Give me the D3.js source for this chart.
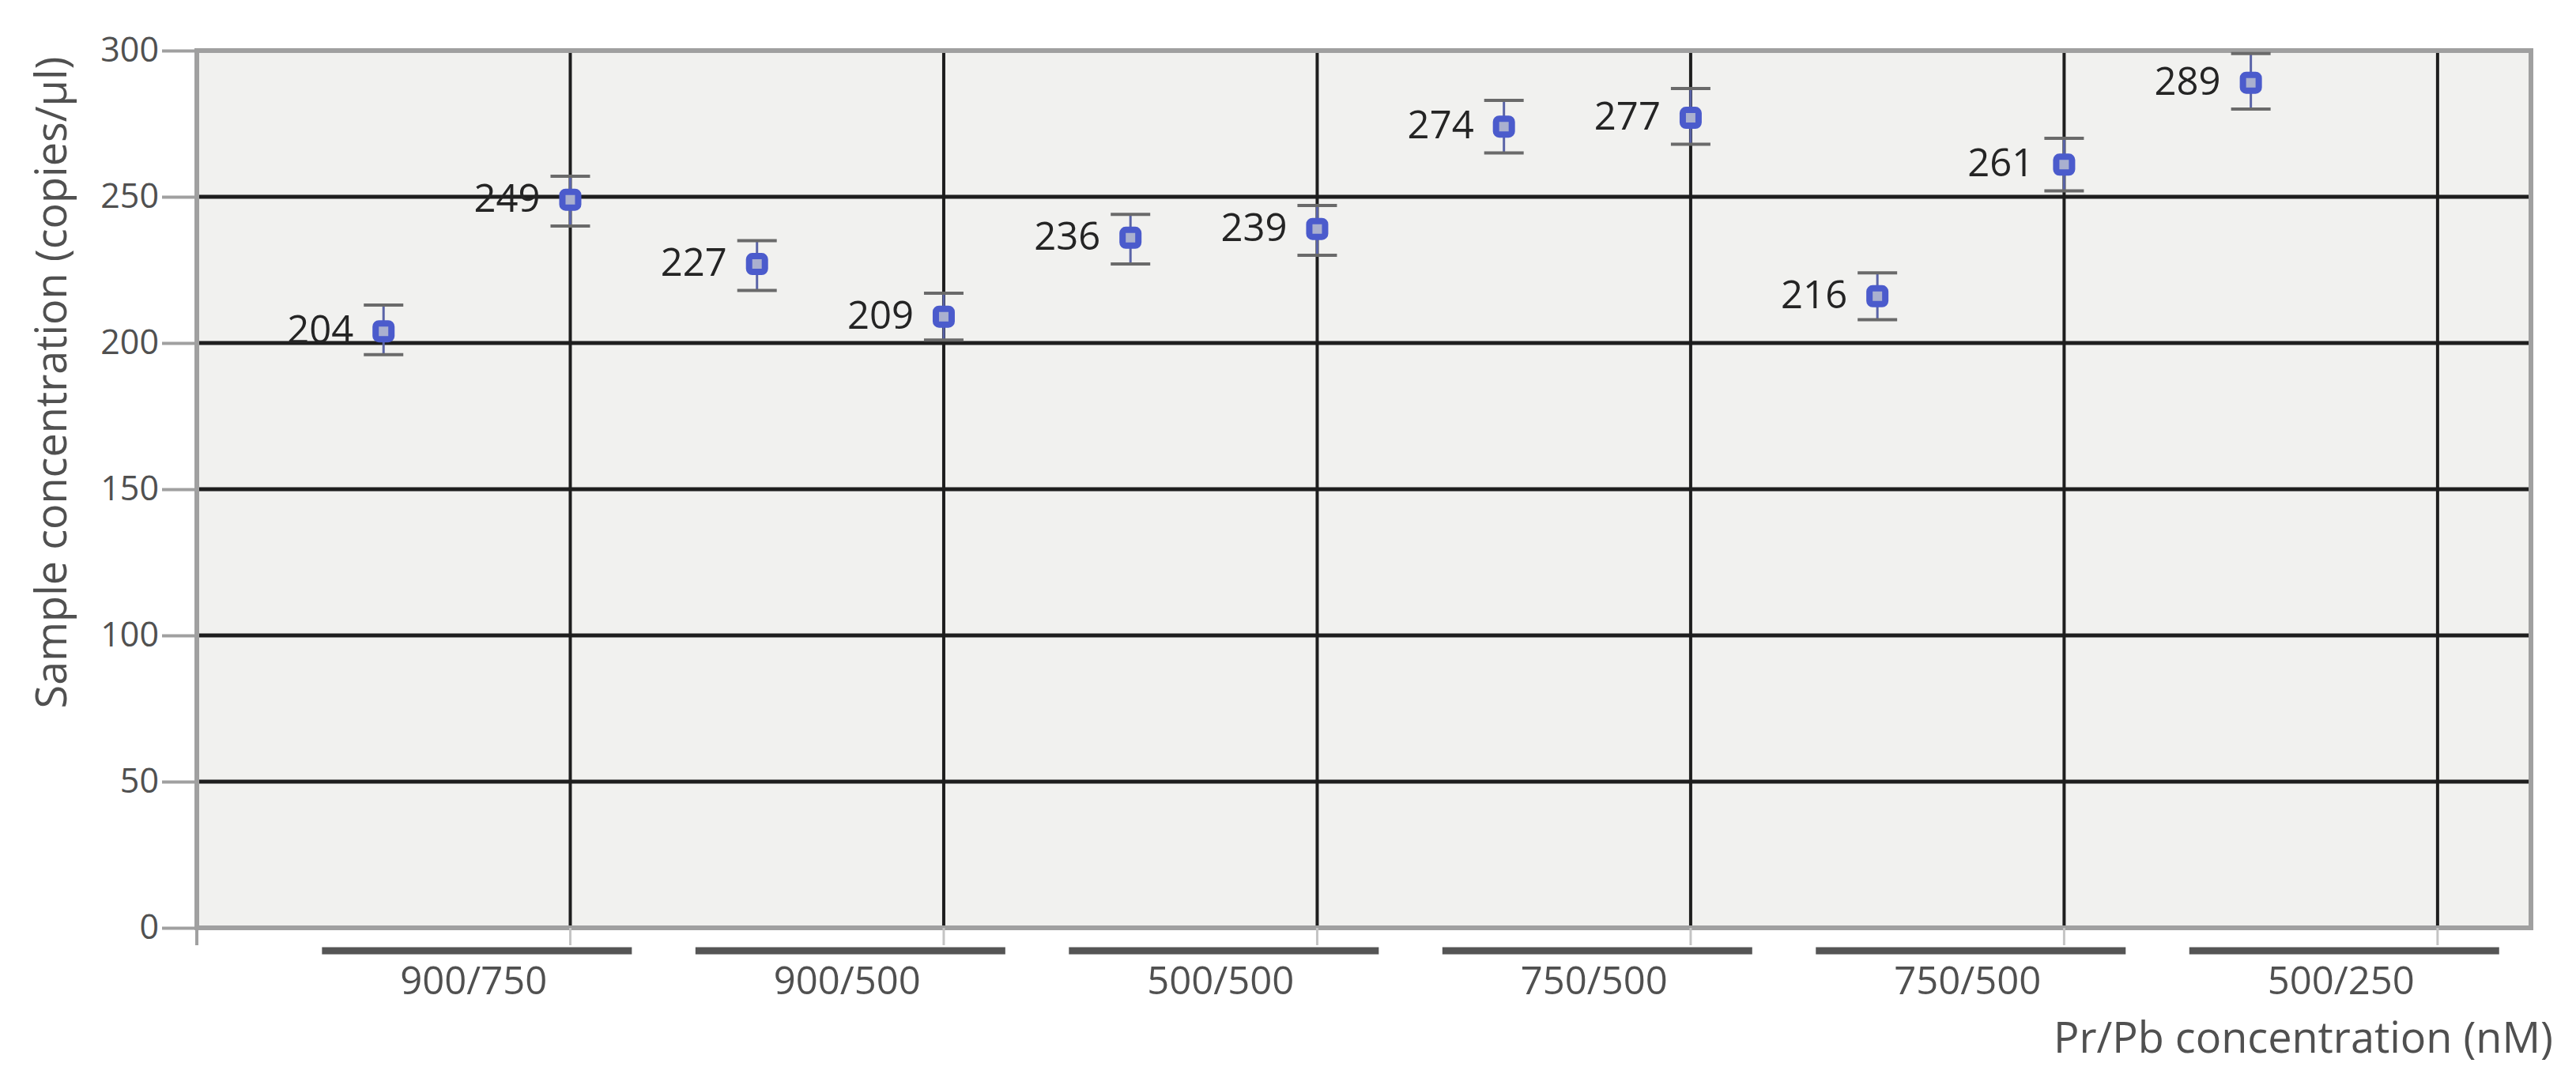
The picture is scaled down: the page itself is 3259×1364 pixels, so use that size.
<!DOCTYPE html>
<html lang="en">
<head>
<meta charset="utf-8">
<script src="https://d3js.org/d3.v7.min.js"></script>
<style>
  body { margin: 0; background: #fff; }
  text { font-family: "Open Sans", "Noto Sans", sans-serif; }
</style>
</head>
<body>
<script>
// groups along the x axis (Pr/Pb concentration, nM)
var groups = ["900/750", "900/500", "500/500", "750/500", "750/500", "500/250"];
// one entry per plotted point: group index, sub position in the group (0 or 1)
var pointGroup = [0, 0, 1, 1, 2, 2, 3, 3, 4, 4, 5];
var pointSub   = [0, 1, 0, 1, 0, 1, 0, 1, 0, 1, 0];
var values     = [204, 249, 227, 209, 236, 239, 274, 277, 216, 261, 289];
var errLow     = [196, 240, 218, 201, 227, 230, 265, 268, 208, 252, 280];
var errHigh    = [213, 257, 235, 217, 244, 247, 283, 287, 224, 270, 299];
var yTicks     = [0, 50, 100, 150, 200, 250, 300];

var W = 3259, H = 1364;
var plotL = 249, plotR = 3202, plotT = 64, plotB = 1174;

var svg = d3.select("body").append("svg")
    .attr("width", W)
    .attr("height", H);

// x: two slots per group, plus half a slot of room on the right
var x = d3.scaleLinear().domain([0, 12.5]).range([plotL, plotR]);
var y = d3.scaleLinear().domain([0, 300]).range([plotB, plotT]);

function slot(i) { return pointGroup[i] * 2 + pointSub[i] + 1; }

// plot background
svg.append("rect")
    .attr("x", plotL).attr("y", plotT)
    .attr("width", plotR - plotL).attr("height", plotB - plotT)
    .attr("fill", "#f1f1ef");

// horizontal grid
svg.append("g").selectAll("line")
    .data(yTicks.filter(function (d) { return d > 0 && d < 300; }))
    .enter().append("line")
    .attr("x1", plotL).attr("x2", plotR)
    .attr("y1", function (d) { return y(d); })
    .attr("y2", function (d) { return y(d); })
    .attr("stroke", "#1e1e1e")
    .attr("stroke-width", 5);

// vertical grid at the end of every group
svg.append("g").selectAll("line")
    .data(groups)
    .enter().append("line")
    .attr("x1", function (d, i) { return x(i * 2 + 2); })
    .attr("x2", function (d, i) { return x(i * 2 + 2); })
    .attr("y1", plotT).attr("y2", plotB)
    .attr("stroke", "#1e1e1e")
    .attr("stroke-width", 4);

// frame
svg.append("rect")
    .attr("x", plotL).attr("y", plotT)
    .attr("width", plotR - plotL).attr("height", plotB - plotT)
    .attr("fill", "none")
    .attr("stroke", "#a0a0a0")
    .attr("stroke-width", 6);

// y axis
var yAxis = svg.append("g")
    .attr("transform", "translate(" + plotL + ",0)")
    .call(d3.axisLeft(y).tickValues(yTicks).tickSize(44).tickPadding(4));
yAxis.select(".domain").remove();
yAxis.selectAll(".tick line").attr("stroke", "#a0a0a0").attr("stroke-width", 4);
yAxis.selectAll(".tick text")
    .attr("fill", "#505050")
    .style("font-size", "43px");

// small ticks under the axis
svg.append("line")
    .attr("x1", plotL).attr("x2", plotL)
    .attr("y1", plotB).attr("y2", plotB + 22)
    .attr("stroke", "#a0a0a0").attr("stroke-width", 4);
svg.append("g").selectAll("line")
    .data(groups)
    .enter().append("line")
    .attr("x1", function (d, i) { return x(i * 2 + 2); })
    .attr("x2", function (d, i) { return x(i * 2 + 2); })
    .attr("y1", plotB).attr("y2", plotB + 22)
    .attr("stroke", "#c4c4c4").attr("stroke-width", 3);

// group bars and labels
var g = svg.append("g").selectAll("g")
    .data(groups)
    .enter().append("g");
g.append("line")
    .attr("x1", function (d, i) { return x(i * 2 + 1.5) - 196; })
    .attr("x2", function (d, i) { return x(i * 2 + 1.5) + 196; })
    .attr("y1", 1203).attr("y2", 1203)
    .attr("stroke", "#555")
    .attr("stroke-width", 9);
g.append("text")
    .attr("x", function (d, i) { return x(i * 2 + 1.5) - 4; })
    .attr("y", 1258)
    .attr("text-anchor", "middle")
    .attr("fill", "#505050")
    .style("font-size", "49px")
    .text(function (d) { return d; });

// error bars
var eb = svg.append("g").selectAll("g")
    .data(values)
    .enter().append("g")
    .attr("stroke", "#6a6a6a")
    .attr("stroke-width", 4);
eb.append("line")
    .attr("x1", function (d, i) { return x(slot(i)); })
    .attr("x2", function (d, i) { return x(slot(i)); })
    .attr("y1", function (d, i) { return y(errLow[i]); })
    .attr("y2", function (d, i) { return y(errHigh[i]); })
    .attr("stroke", "#5a64a8")
    .attr("stroke-width", 3);
eb.append("line")
    .attr("x1", function (d, i) { return x(slot(i)) - 25; })
    .attr("x2", function (d, i) { return x(slot(i)) + 25; })
    .attr("y1", function (d, i) { return y(errLow[i]); })
    .attr("y2", function (d, i) { return y(errLow[i]); });
eb.append("line")
    .attr("x1", function (d, i) { return x(slot(i)) - 25; })
    .attr("x2", function (d, i) { return x(slot(i)) + 25; })
    .attr("y1", function (d, i) { return y(errHigh[i]); })
    .attr("y2", function (d, i) { return y(errHigh[i]); });

// markers
svg.append("g").selectAll("rect")
    .data(values)
    .enter().append("rect")
    .attr("x", function (d, i) { return x(slot(i)) - 10; })
    .attr("y", function (d) { return y(d) - 10; })
    .attr("width", 20).attr("height", 20)
    .attr("rx", 4)
    .attr("fill", "#aab0cf")
    .attr("stroke", "#4b5bcc")
    .attr("stroke-width", 8);

// value labels
svg.append("g").selectAll("text")
    .data(values)
    .enter().append("text")
    .attr("x", function (d, i) { return x(slot(i)) - 38; })
    .attr("y", function (d) { return y(d) + 15; })
    .attr("text-anchor", "end")
    .attr("fill", "#242424")
    .style("font-size", "49px")
    .text(function (d) { return d; });

// axis titles
svg.append("text")
    .attr("x", 3230)
    .attr("y", 1332)
    .attr("text-anchor", "end")
    .attr("fill", "#505050")
    .style("font-size", "54px")
    .text("Pr/Pb concentration (nM)");

svg.append("text")
    .attr("transform", "translate(84,484) rotate(-90)")
    .attr("text-anchor", "middle")
    .attr("fill", "#505050")
    .style("font-size", "54px")
    .text("Sample concentration (copies/µl)");
</script>
</body>
</html>
